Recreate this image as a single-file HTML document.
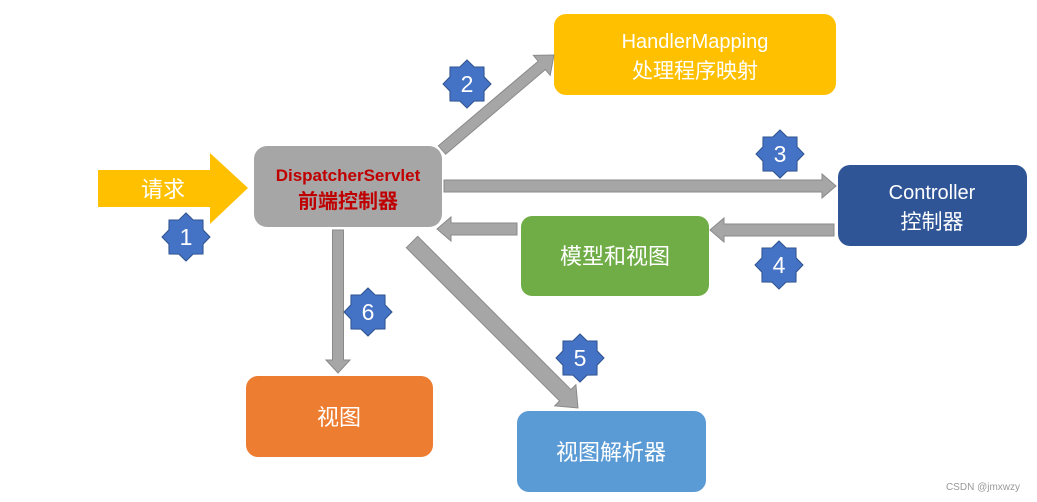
<!DOCTYPE html>
<html><head><meta charset="utf-8"><style>
body{margin:0;background:#fff;width:1037px;height:502px;overflow:hidden}
svg{display:block}
text{font-family:"Liberation Sans","Noto Sans CJK SC",sans-serif}
</style></head><body>
<svg id="s" width="1037" height="502" viewBox="0 0 1037 502">
<polygon points="98,170 210,170 210,153 248,188 210,224 210,207 98,207" fill="#ffc000"/>
<text x="163" y="197" font-size="22" fill="#fff" text-anchor="middle">请求</text>
<rect x="254" y="146" width="188" height="81" rx="13" fill="#a6a6a6"/>
<text x="348" y="181" font-size="17" fill="#c00000" text-anchor="middle" font-weight="bold">DispatcherServlet</text>
<text x="348" y="208" font-size="20" fill="#c00000" text-anchor="middle" font-weight="bold">前端控制器</text>
<rect x="554" y="14" width="282" height="81" rx="12" fill="#ffc000"/>
<text x="695" y="48" font-size="20" fill="#fff" text-anchor="middle">HandlerMapping</text>
<text x="695" y="78" font-size="21" fill="#fff" text-anchor="middle">处理程序映射</text>
<rect x="838" y="165" width="189" height="81" rx="12" fill="#2f5597"/>
<text x="932" y="199" font-size="20" fill="#fff" text-anchor="middle">Controller</text>
<text x="932" y="229" font-size="21" fill="#fff" text-anchor="middle">控制器</text>
<rect x="521" y="216" width="188" height="80" rx="11" fill="#70ad47"/>
<text x="615" y="264" font-size="22" fill="#fff" text-anchor="middle">模型和视图</text>
<rect x="246" y="376" width="187" height="81" rx="12" fill="#ed7d31"/>
<text x="339" y="425" font-size="22" fill="#fff" text-anchor="middle">视图</text>
<rect x="517" y="411" width="189" height="81" rx="12" fill="#5b9bd5"/>
<text x="611" y="460" font-size="22" fill="#fff" text-anchor="middle">视图解析器</text>
<g id="arrows"></g>
<g id="stars"></g>
<text x="1020" y="490" font-size="10" fill="#999" text-anchor="end">CSDN @jmxwzy</text>
</svg>
<script>
function arrow(x1,y1,x2,y2,w,hw,hl){
 var dx=x2-x1,dy=y2-y1,L=Math.hypot(dx,dy),ux=dx/L,uy=dy/L,px=-uy,py=ux;
 var bx=x2-ux*hl,by=y2-uy*hl;
 var p=[[x1+px*w,y1+py*w],[bx+px*w,by+py*w],[bx+px*hw,by+py*hw],[x2,y2],[bx-px*hw,by-py*hw],[bx-px*w,by-py*w],[x1-px*w,y1-py*w]];
 return '<polygon points="'+p.map(function(a){return a[0].toFixed(1)+','+a[1].toFixed(1)}).join(' ')+'" fill="#a6a6a6" stroke="#8a8a8a" stroke-width="1"/>';
}
var a='';
a+=arrow(442,150,554,55,5.5,13,16);
a+=arrow(444,186,836,186,6,12,14);
a+=arrow(834,230,710,230,6,12,14);
a+=arrow(517,229,437,229,6,12,14);
a+=arrow(338,230,338,373,5.5,12,13);
a+=arrow(412,242,578,408,8,15,18);
document.getElementById('arrows').innerHTML=a;
function star(cx,cy,n){
 var p=[],R=24,r=18.5;
 for(var i=0;i<16;i++){var ang=Math.PI/8*i-Math.PI/2;var rr=i%2?r:R;p.push((cx+rr*Math.cos(ang)).toFixed(1)+','+(cy+rr*Math.sin(ang)).toFixed(1));}
 return '<polygon points="'+p.join(' ')+'" fill="#4472c4" stroke="#2f528f" stroke-width="1"/><text x="'+cx+'" y="'+(cy+8)+'" font-size="23" fill="#fff" text-anchor="middle">'+n+'</text>';
}
var s='';
s+=star(186,237,1);s+=star(467,84,2);s+=star(780,154,3);s+=star(779,265,4);s+=star(580,358,5);s+=star(368,312,6);
document.getElementById('stars').innerHTML=s;
</script>
</body></html>
